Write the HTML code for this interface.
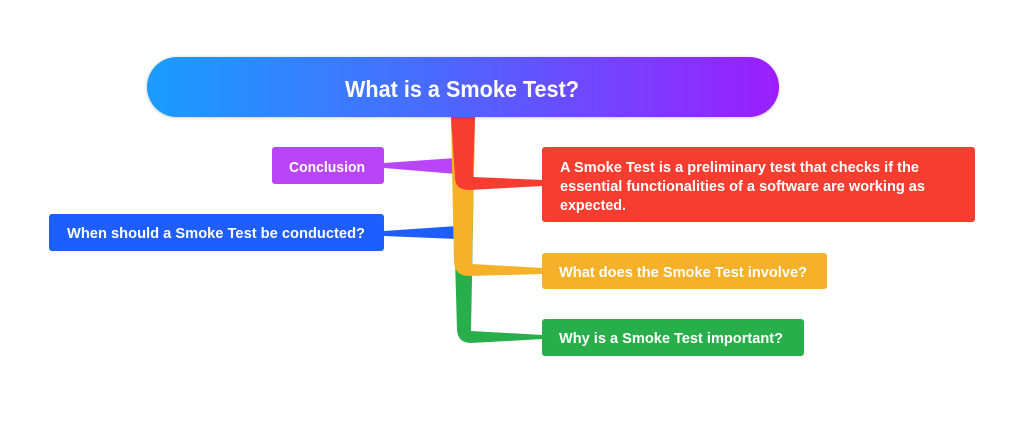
<!DOCTYPE html>
<html>
<head>
<meta charset="utf-8">
<style>
  html, body { margin:0; padding:0; background:#ffffff; }
  body { width:1024px; height:432px; overflow:hidden; }
  svg { display:block; }
  text { font-family:"Liberation Sans", sans-serif; font-weight:bold; fill:#ffffff; }
</style>
</head>
<body>
<svg width="1024" height="432" viewBox="0 0 1024 432" xmlns="http://www.w3.org/2000/svg">
  <defs>
    <linearGradient id="rootg" x1="0" y1="0" x2="1" y2="0">
      <stop offset="0" stop-color="#1a9dff"/>
      <stop offset="0.45" stop-color="#4a6aff"/>
      <stop offset="1" stop-color="#9c1eff"/>
    </linearGradient>
    <filter id="sh" x="-5%" y="-20%" width="110%" height="140%">
      <feGaussianBlur in="SourceAlpha" stdDeviation="1.5"/>
      <feOffset dx="0" dy="0.5" result="b"/>
      <feComponentTransfer><feFuncA type="linear" slope="0.25"/></feComponentTransfer>
      <feMerge><feMergeNode/><feMergeNode in="SourceGraphic"/></feMerge>
    </filter>
  </defs>

  <!-- left connectors -->
  <path d="M384,163 L384,168 L456,174 L456,158 Z" fill="#b946f6"/>
  <path d="M384,231 L384,236 L457,239 L457,226 Z" fill="#1e5eff"/>

  <!-- trunk branches -->
  <path d="M451,117 L475,117 L471,331 L543,335 L543,339 L471,343 Q458,343 457,330 Z" fill="#28af4c"/>
  <path d="M451,117 L475,117 L472,264 L543,268 L543,274 L469,276 Q455,276 454,262 Z" fill="#f6b12a"/>
  <path d="M451,117 L475,117 L473,177 L543,180 L543,186 L469,190 Q455,190 455,177 Z" fill="#f73d30"/>

  <!-- root -->
  <rect x="147" y="57" width="632" height="60" rx="30" ry="30" fill="url(#rootg)" filter="url(#sh)"/>
  <text x="345" y="97" font-size="23" textLength="234" lengthAdjust="spacingAndGlyphs">What is a Smoke Test?</text>

  <!-- Conclusion -->
  <rect x="272" y="147" width="112" height="37" rx="3" fill="#b946f6"/>
  <text x="289" y="172" font-size="15" textLength="76" lengthAdjust="spacingAndGlyphs">Conclusion</text>

  <!-- When should -->
  <rect x="49" y="214" width="335" height="37" rx="3" fill="#1e5eff"/>
  <text x="67" y="238" font-size="15" textLength="298" lengthAdjust="spacingAndGlyphs">When should a Smoke Test be conducted?</text>

  <!-- Red node -->
  <rect x="542" y="147" width="433" height="75" rx="3" fill="#f73d30"/>
  <text x="560" y="172" font-size="15" textLength="359" lengthAdjust="spacingAndGlyphs">A Smoke Test is a preliminary test that checks if the</text>
  <text x="560" y="191" font-size="15" textLength="365" lengthAdjust="spacingAndGlyphs">essential functionalities of a software are working as</text>
  <text x="560" y="210" font-size="15" textLength="66" lengthAdjust="spacingAndGlyphs">expected.</text>

  <!-- Yellow node -->
  <rect x="542" y="253" width="285" height="36" rx="3" fill="#f6b12a"/>
  <text x="559" y="277" font-size="15" textLength="248" lengthAdjust="spacingAndGlyphs">What does the Smoke Test involve?</text>

  <!-- Green node -->
  <rect x="542" y="319" width="262" height="37" rx="3" fill="#28af4c"/>
  <text x="559" y="343" font-size="15" textLength="224" lengthAdjust="spacingAndGlyphs">Why is a Smoke Test important?</text>
</svg>
</body>
</html>
